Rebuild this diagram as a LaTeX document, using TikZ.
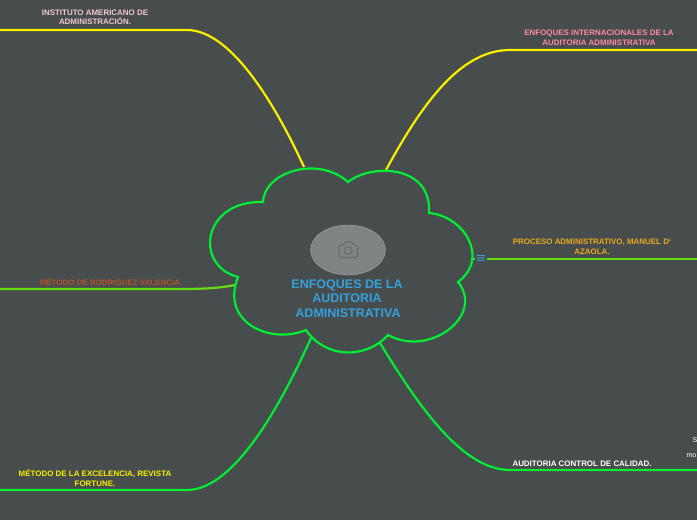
\documentclass[tikz,border=0pt]{standalone}
\usepackage{fontspec}
\setmainfont{Liberation Sans}
\newfontfamily\menufont{DejaVu Sans}
\usetikzlibrary{shapes.geometric}
\definecolor{slate}{HTML}{474C4C}
\definecolor{cloudgreen}{HTML}{00EE33}
\definecolor{branchyellow}{HTML}{F8EE00}
\definecolor{branchlime}{HTML}{66DD11}
\definecolor{rootblue}{HTML}{35A0DC}
\definecolor{photogray}{HTML}{808484}
\definecolor{icongray}{HTML}{666A6A}
\tikzset{
    topic/.style={font=\fontsize{7.95}{9.5}\selectfont\bfseries, align=center, inner sep=0pt},
    root/.style={font=\fontsize{12.5}{14.5}\selectfont\bfseries, align=center, inner sep=0pt, text=rootblue},
    branch/.style={line width=2.2pt},
}

\begin{document}
\begin{tikzpicture}[x=1pt,y=-1pt]
    \fill[slate] (0,0) rectangle (697,520);
    \useasboundingbox (0,0) rectangle (697,520);

    \coordinate (c1) at (263,202);
    \coordinate (c2) at (348,182);
    \coordinate (c3) at (429,213);
    \coordinate (c4) at (458,282);
    \coordinate (c5) at (388,335);
    \coordinate (c6) at (306,330);
    \coordinate (c7) at (238,277);

    \coordinate (tl) at (304,167);
    \coordinate (tr) at (386,170);
    \coordinate (ml) at (235,285);
    \coordinate (mr) at (473,259);
    \coordinate (bl) at (311,338);
    \coordinate (br) at (380,343);

    \coordinate (tlend) at (0,30);
    \coordinate (trend) at (697,50);
    \coordinate (mlend) at (0,289);
    \coordinate (mrend) at (697,259);
    \coordinate (blend) at (0,490);
    \coordinate (brend) at (697,470);

    \node[topic, text={rgb,255:red,240;green,200;blue,208}] (instituto) at (95,17.5) {INSTITUTO AMERICANO DE\\ADMINISTRACIÓN.};
    \node[topic, text={rgb,255:red,255;green,136;blue,170}] (enfoques) at (599,38) {ENFOQUES INTERNACIONALES DE LA\\AUDITORIA ADMINISTRATIVA};
    \node[topic, text={rgb,255:red,235;green,170;blue,30}] (proceso) at (592,247) {PROCESO ADMINISTRATIVO, MANUEL D`\\AZAOLA.};
    \node[topic, text={rgb,255:red,180;green,85;blue,45}] (metodo) at (111,282) {MÉTODO DE RODRIGUEZ VALENCIA.};
    \node[topic, text=branchyellow] (excelencia) at (95,478) {MÉTODO DE LA EXCELENCIA, REVISTA\\FORTUNE.};
    \node[topic, text=white] (control) at (582,463.5) {AUDITORIA CONTROL DE CALIDAD.};
    \node[topic, font=\fontsize{7}{9.5}\selectfont, text=white, anchor=west] (s) at (692.5,440) {S};
    \node[topic, font=\fontsize{7}{9.5}\selectfont, text=white, anchor=west] (mo) at (686.3,456) {mo};

    \draw[branch, branchyellow] (tlend) -- (187,30) .. controls (232,30) and (277,108) .. (tl);
    \draw[branch, branchyellow] (tr) .. controls (424,100) and (462,50) .. (510,50) -- (trend);
    \draw[branch, branchlime] (ml) .. controls (220,288) and (205,289) .. (180,289) -- (mlend);
    \draw[branch, cloudgreen] (bl) .. controls (272,425) and (228,490) .. (187,490) -- (blend);
    \draw[branch, cloudgreen] (br) .. controls (418,405) and (462,470) .. (510,470) -- (brend);

    \node[font=\menufont\fontsize{13}{13}\selectfont, text=rootblue, inner sep=0pt, minimum width=10pt] (menu) at (481,259) {\raisebox{-1pt}{≡}};
    \draw[branch, branchlime] (mr) -- (menu);
    \draw[branch, branchlime] (menu) -- (mrend);

    \draw[line width=2.2pt, cloudgreen, fill=slate] (c1)
        .. controls (264,172) and (318,155) .. (c2)
        .. controls (372,163) and (432,165) .. (c3)
        .. controls (464,216) and (490,258) .. (c4)
        .. controls (485,315) and (430,358) .. (c5)
        .. controls (365,360) and (325,358) .. (c6)
        .. controls (270,345) and (220,322) .. (c7)
        .. controls (193,265) and (203,200) .. cycle;

    \node[ellipse, draw=gray!70!white, fill=photogray, minimum width=75pt, minimum height=50pt, inner sep=0pt] (photo) at (348,250) {};
    \draw[line width=1pt, icongray, rounded corners=1.5pt] (339,245) -- (344,245) -- (345,241.5) -- (352,241.5) -- (353,245) -- (357.5,245) -- (357.5,257.5) -- (339,257.5) -- cycle;
    \node[circle, draw=icongray, line width=1pt, minimum size=8pt, inner sep=0pt] (lens) at (348.3,250.5) {};

    \node[root] (title) at (347,298.5) {ENFOQUES DE LA\\AUDITORIA\\\hspace*{2pt}ADMINISTRATIVA};
\end{tikzpicture}
\end{document}
